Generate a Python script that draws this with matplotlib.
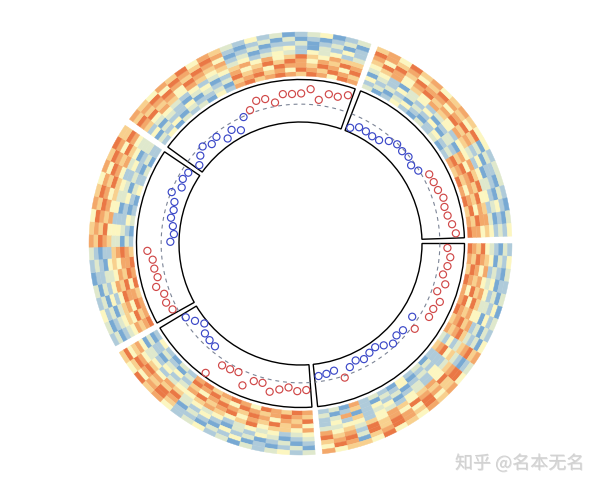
"""Circular heatmap with a split point track (circos-style)."""

import numpy as np
import matplotlib

matplotlib.use("Agg")
import matplotlib.pyplot as plt
import matplotlib.patheffects as pe
from matplotlib.colors import ListedColormap

# ---- data ---------------------------------------------------------------
SECTORS = ["a", "b", "c", "d", "e"]
SECTOR_SIZES = [21, 19, 24, 18, 18]

# row means shown in the point track, one list per sector (clockwise order)
MEAN_A = [-0.67, -0.36, -0.09, -0.36, -0.21, -0.68, -0.38, -0.67, -0.04,
          0.19, 0.59, 0.55, 0.23, 0.65, 0.61, 0.63, 0.90, 0.32, 0.74, 0.71, 0.96]
MEAN_B = [-0.79, -0.54, -0.56, -0.61, -0.56, -0.24, -0.05, -0.12, -0.05, -0.23,
          -0.05, 0.40, 0.43, 0.48, 0.63, 0.54, 0.61, 0.79, 0.96]
MEAN_C = [0.45, 0.65, 0.55, 0.38, 0.65, 0.32, 0.69, 0.51, 0.51, -0.34, 0.19,
          -0.30, -0.38, -0.18, -0.46, -0.68, -0.60, -0.44, -0.59, -0.37, 0.11,
          -0.46, -0.38, -0.33]
MEAN_D = [0.43, 0.49, 0.30, 0.48, 0.71, 0.30, 0.35, 0.82, 0.20, 0.28, 0.33,
          1.24, -0.33, -0.39, -0.48, -0.84, -0.50, -0.17]
MEAN_E = [0.27, 0.44, 0.35, 0.67, 0.44, 0.53, 0.55, 0.82, -0.54, -0.73, -0.62,
          -0.43, -0.48, -0.39, -0.04, -0.47, -0.30, -0.39]
MEANS = [MEAN_A, MEAN_B, MEAN_C, MEAN_D, MEAN_E]

# heatmap levels (0 = blue ... 6 = red), innermost ring first,
# sector chunks a | b | c | d | e
HEAT_ROWS = [
    "130212031564565465365 2013102120154656456 654655645241021301215021 564563565465120131 655465641021031201",
    "213021120456453654654 1202310131265435645 546536554151210312014102 456545634656201210 546536552130121021",
    "021130212645365546536 3121021302146554365 465463465361121021310521 645356456534132012 463564560211302112",
    "302102301534646535465 0213213012053646553 653546546131312103214131 354645365465213120 535645352310221302",
    "123213123453534643544 2310231231335463454 345354354242312312313322 534436434543321323 344353442313231232",
    "435435434231232132312 3453435435421323123 231232312424354345342435 321323213232453435 232132314353443543",
    "564536545120123102131 4653564564513021201 102312021515645635461546 210231201312645654 120312015645365465",
    "645654653012011201201 5364655356420110312 021021302606456356462654 102102130120564563 012021106456546536",
    "456365465101202010120 6545346543602102101 210103120416436456540563 021010312011465346 201201214564653654",
    "543546354213120123012 4536453454331221023 132120213523545343634435 213212021321354634 123120125435435464",
]

WATERMARK = "知乎 @名本无名"

# ---- layout -------------------------------------------------------------
CX, CY, R_AX = 300.5, 243.5, 230.0        # pixels
STEP, GAP = 3.5, 2.0                      # degrees per cell / between sectors
START_ANGLE = 144.0                       # where sector "a" begins
TRACK_IN, TRACK_OUT = 121.5, 164.0
HEAT_IN, HEAT_OUT = 167.5, 211.5
YLIM = (-1.05, 1.45)

HEAT_COLORS = ["#78a9d3", "#afcbda", "#dfe8cc", "#fcf6c0",
               "#f8d08e", "#f3a86a", "#ea7845"]
cmap = ListedColormap(HEAT_COLORS)

fig = plt.figure(figsize=(6, 4.87), dpi=100)
fig.patch.set_facecolor("white")
ax = fig.add_axes([(CX - R_AX) / 600, (CY - R_AX) / 487,
                   2 * R_AX / 600, 2 * R_AX / 487], projection="polar")
ax.set_theta_offset(np.deg2rad(START_ANGLE))
ax.set_theta_direction(-1)
ax.set_ylim(0, R_AX)
ax.set_axis_off()

heat = [row.replace(" ", "") for row in HEAT_ROWS]
n_rows = len(heat)
row_h = (HEAT_OUT - HEAT_IN) / n_rows


def to_r(v):
    return TRACK_IN + (np.asarray(v) - YLIM[0]) / (YLIM[1] - YLIM[0]) * (TRACK_OUT - TRACK_IN)


offset = 0
start = 0.0
for name, size, means in zip(SECTORS, SECTOR_SIZES, MEANS):
    idx = np.arange(size)
    theta = np.deg2rad(start + (idx + 0.5) * STEP)
    width = np.deg2rad(STEP)

    # heatmap rings
    for k, row in enumerate(heat):
        levels = [int(c) for c in row[offset:offset + size]]
        cols = cmap(levels)
        ax.bar(theta, row_h, width=width, bottom=HEAT_IN + k * row_h,
               color=cols, edgecolor=cols, linewidth=0.3)

    # point track box
    ax.bar(np.deg2rad(start), TRACK_OUT - TRACK_IN,
           width=np.deg2rad(size * STEP), bottom=TRACK_IN, align="edge",
           fill=False, edgecolor="black", linewidth=1.0)

    # zero line
    arc = np.linspace(np.deg2rad(start), np.deg2rad(start + size * STEP), 60)
    ax.plot(arc, np.full_like(arc, to_r(0.0)), color="#7c8496",
            linewidth=0.8, linestyle=(0, (3.5, 3.5)))

    vals = np.asarray(means)
    colors = np.where(vals > 0, "#d04848", "#3b48c8")
    ax.scatter(theta, to_r(vals), s=26, facecolors="none",
               edgecolors=colors, linewidths=0.85, zorder=3)

    offset += size
    start += size * STEP + GAP

fig.text(0.758, 0.049, WATERMARK, ha="left", va="center", fontsize=13,
         color="#d2d2d2", family=["Noto Sans CJK SC", "DejaVu Sans"],
         path_effects=[pe.withSimplePatchShadow(offset=(0.5, -0.5),
                                                shadow_rgbFace="#a0a0a0",
                                                alpha=0.35)])

fig.savefig("out.png", dpi=100)
plt.close(fig)
